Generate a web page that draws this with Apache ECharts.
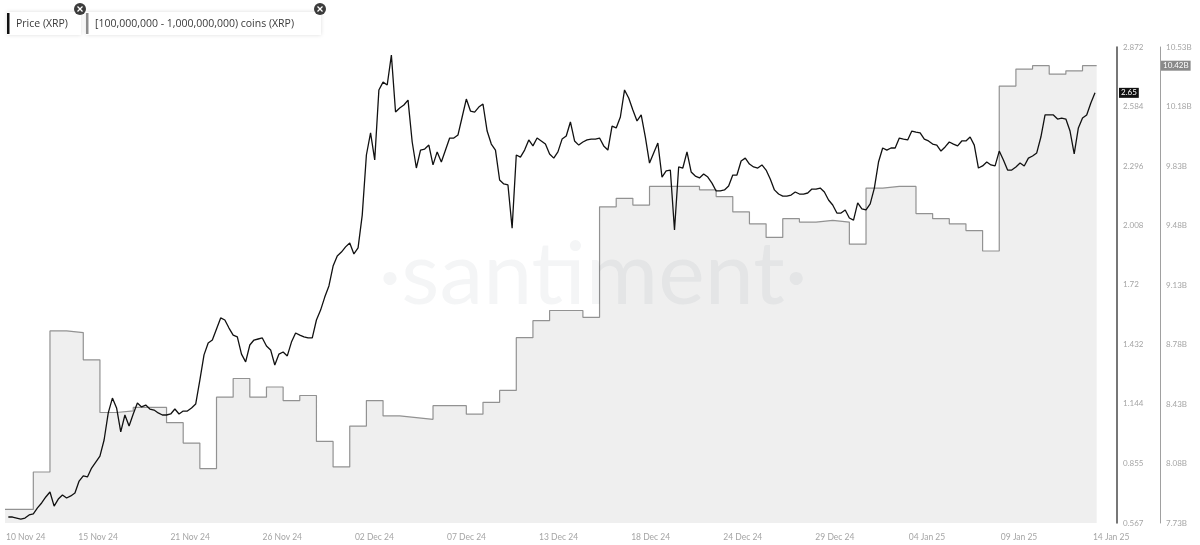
<!DOCTYPE html>
<html>
<head>
<meta charset="utf-8">
<title>XRP price vs 100M-1B holders</title>
<script src="https://cdn.jsdelivr.net/npm/echarts@6/dist/echarts.min.js"></script>
<style>
  html, body { margin: 0; padding: 0; background: #fff; }
  #chart { width: 1200px; height: 545px; }
</style>
</head>
<body>
<div id="chart"></div>
<script>
// x values are days counted from 10 Nov 24 00:00
const xTickLabels = ['10 Nov 24', '15 Nov 24', '21 Nov 24', '26 Nov 24', '02 Dec 24', '07 Dec 24',
  '13 Dec 24', '18 Dec 24', '24 Dec 24', '29 Dec 24', '04 Jan 25', '09 Jan 25', '14 Jan 25']
const priceTicks = [0.567, 0.855, 1.144, 1.432, 1.72, 2.008, 2.296, 2.584, 2.872]
const coinTicks = [7.73, 8.08, 8.43, 8.78, 9.13, 9.48, 9.83, 10.18, 10.53]
const seriesNames = ['Price (XRP)', '[100,000,000 - 1,000,000,000) coins (XRP)']

// coins held by the 100M-1B cohort, billions, one value per day from 10 Nov
const coinHoldings = [
  7.81, 7.81, 8.03, 8.86, 8.85, 8.69, 8.38, 8.39, 8.41, 8.41,
  8.32, 8.20, 8.05, 8.47, 8.58, 8.47, 8.53, 8.45, 8.48, 8.21,
  8.06, 8.30, 8.45, 8.36, 8.35, 8.34, 8.42, 8.42, 8.37, 8.44,
  8.51, 8.82, 8.92, 8.98, 8.98, 8.94, 9.59, 9.64, 9.60, 9.71,
  9.71, 9.71, 9.69, 9.65, 9.56, 9.49, 9.41, 9.52, 9.50, 9.51,
  9.50, 9.37, 9.70, 9.71, 9.71, 9.55, 9.52, 9.49, 9.45, 9.33,
  10.30, 10.40, 10.42, 10.37, 10.39, 10.42
]

// XRP price, USD, every 6 hours from 10 Nov 12:00
const priceXrp = [
  0.596, 0.596, 0.591, 0.586, 0.591, 0.606, 0.611, 0.640, 0.664, 0.693,
  0.717, 0.649, 0.683, 0.703, 0.688, 0.698, 0.712, 0.770, 0.795, 0.790,
  0.833, 0.862, 0.891, 0.969, 1.100, 1.172, 1.124, 1.008, 1.090, 1.037,
  1.095, 1.148, 1.129, 1.138, 1.119, 1.114, 1.100, 1.090, 1.090, 1.095,
  1.119, 1.095, 1.109, 1.109, 1.124, 1.143, 1.259, 1.381, 1.439, 1.453,
  1.506, 1.560, 1.550, 1.511, 1.477, 1.468, 1.385, 1.347, 1.429, 1.453,
  1.458, 1.463, 1.424, 1.405, 1.332, 1.385, 1.395, 1.376, 1.443, 1.487,
  1.477, 1.468, 1.463, 1.463, 1.550, 1.598, 1.661, 1.715, 1.811, 1.860,
  1.879, 1.904, 1.923, 1.870, 1.899, 2.058, 2.349, 2.456, 2.325, 2.664,
  2.702, 2.688, 2.833, 2.557, 2.577, 2.591, 2.615, 2.412, 2.286, 2.373,
  2.378, 2.397, 2.301, 2.364, 2.315, 2.373, 2.431, 2.431, 2.446, 2.533,
  2.620, 2.562, 2.557, 2.581, 2.596, 2.465, 2.402, 2.373, 2.228, 2.209,
  2.204, 1.995, 2.349, 2.339, 2.373, 2.422, 2.393, 2.431, 2.417, 2.402,
  2.354, 2.334, 2.364, 2.426, 2.441, 2.509, 2.417, 2.397, 2.412, 2.422,
  2.426, 2.426, 2.431, 2.393, 2.373, 2.489, 2.480, 2.533, 2.664, 2.625,
  2.567, 2.514, 2.543, 2.436, 2.310, 2.359, 2.407, 2.242, 2.272, 2.276,
  1.986, 2.291, 2.286, 2.364, 2.267, 2.247, 2.238, 2.257, 2.242, 2.213,
  2.175, 2.175, 2.180, 2.199, 2.252, 2.252, 2.320, 2.334, 2.305, 2.291,
  2.286, 2.301, 2.276, 2.233, 2.180, 2.160, 2.150, 2.150, 2.155, 2.170,
  2.160, 2.160, 2.165, 2.184, 2.184, 2.189, 2.170, 2.131, 2.107, 2.068,
  2.068, 2.083, 2.044, 2.034, 2.117, 2.088, 2.083, 2.112, 2.189, 2.315,
  2.383, 2.373, 2.383, 2.383, 2.431, 2.426, 2.422, 2.465, 2.460, 2.456,
  2.426, 2.417, 2.402, 2.397, 2.368, 2.388, 2.412, 2.402, 2.393, 2.417,
  2.417, 2.436, 2.397, 2.286, 2.296, 2.315, 2.301, 2.296, 2.368, 2.325,
  2.276, 2.276, 2.291, 2.310, 2.296, 2.334, 2.344, 2.359, 2.436, 2.543,
  2.543, 2.543, 2.523, 2.528, 2.523, 2.465, 2.354, 2.480, 2.528, 2.543,
  2.601, 2.650
]

const PRICE_START = 0.5
const PRICE_STEP = 0.25
const DATA_END = 65.85
const X_MIN = 0.36
const X_MAX = 67.07
const X_STEP = 5.53

const coinData = coinHoldings.map((v, i) => [i, v])
coinData.push([DATA_END, coinHoldings[coinHoldings.length - 1]])
const priceData = priceXrp.map((v, i) => [PRICE_START + i * PRICE_STEP, v])

const axisText = { color: '#a5a5a5', fontSize: 8, fontFamily: 'Lato' }

const legendBox = (x, w, barColor, name) => [
  { type: 'rect', shape: { x, y: 12, width: w, height: 23 }, style: { fill: '#fff', shadowBlur: 4, shadowColor: 'rgba(0,0,0,0.14)' } },
  { type: 'rect', shape: { x, y: 13, width: 2.5, height: 21 }, style: { fill: barColor } },
  { type: 'text', style: { text: name, x: x + 9, y: 24, verticalAlign: 'middle', font: '10.5px "Open Sans"', fill: '#3a3a3a' } },
  { type: 'circle', shape: { cx: x + w - 1, cy: 9, r: 6 }, style: { fill: '#3c3c3c' } },
  { type: 'line', shape: { x1: x + w - 3.5, y1: 6.5, x2: x + w + 1.5, y2: 11.5 }, style: { stroke: '#fff', lineWidth: 1.3 } },
  { type: 'line', shape: { x1: x + w + 1.5, y1: 6.5, x2: x + w - 3.5, y2: 11.5 }, style: { stroke: '#fff', lineWidth: 1.3 } }
]

const chart = echarts.init(document.getElementById('chart'))
chart.setOption({
  animation: false,
  backgroundColor: '#fff',
  grid: { left: 6, right: 83, top: 47, bottom: 22, containLabel: false, outerBoundsMode: 'none' },
  xAxis: {
    type: 'value',
    min: X_MIN,
    max: X_MAX,
    interval: X_STEP,
    axisLine: { show: false },
    axisTick: { show: false },
    splitLine: { show: false },
    axisLabel: {
      ...axisText,
      fontSize: 8.5,
      margin: 10,
      alignMinLabel: 'left',
      formatter: (v) => {
        const i = Math.round((v - X_MIN) / X_STEP)
        return Math.abs(X_MIN + i * X_STEP - v) < 0.01 ? (xTickLabels[i] || '') : ''
      }
    }
  },
  yAxis: [
    {
      type: 'value',
      position: 'right',
      min: priceTicks[0],
      max: priceTicks[priceTicks.length - 1],
      axisLine: { show: true, lineStyle: { color: '#4a4a4a', width: 1.5 } },
      axisTick: { show: false },
      splitLine: { show: false },
      axisLabel: { ...axisText, margin: 6, customValues: priceTicks, formatter: (v) => String(v) }
    },
    {
      type: 'value',
      position: 'right',
      offset: 43,
      min: coinTicks[0],
      max: coinTicks[coinTicks.length - 1],
      axisLine: { show: true, lineStyle: { color: '#a0a0a0', width: 1 } },
      axisTick: { show: false },
      splitLine: { show: false },
      axisLabel: { ...axisText, margin: 6, customValues: coinTicks, formatter: (v) => v.toFixed(2) + 'B' }
    }
  ],
  graphic: [
    ...legendBox(7, 74, '#111', seriesNames[0]),
    ...legendBox(86, 235, '#8c8c8c', seriesNames[1]),
    {
      type: 'text',
      z: 100,
      silent: true,
      style: {
        text: '·santiment·',
        x: 593,
        y: 276,
        align: 'center',
        verticalAlign: 'middle',
        font: '400 88px Lato',
        fill: 'rgba(40,50,70,0.05)'
      }
    }
  ],
  series: [
    {
      name: seriesNames[1],
      type: 'line',
      yAxisIndex: 1,
      step: 'end',
      showSymbol: false,
      data: coinData,
      lineStyle: { color: '#929292', width: 1.2 },
      areaStyle: { color: '#efefef', opacity: 1 },
      markLine: {
        silent: true,
        symbol: 'none',
        lineStyle: { color: 'transparent' },
        label: {
          position: 'end',
          distance: 44,
          formatter: (p) => p.value.toFixed(2) + 'B',
          color: '#fff',
          backgroundColor: '#8a8a8a',
          padding: [1, 2],
          fontSize: 8,
          fontFamily: 'Lato'
        },
        data: [{ yAxis: coinHoldings[coinHoldings.length - 1] }]
      }
    },
    {
      name: seriesNames[0],
      type: 'line',
      yAxisIndex: 0,
      showSymbol: false,
      data: priceData,
      lineStyle: { color: '#111', width: 1.3 },
      markLine: {
        silent: true,
        symbol: 'none',
        lineStyle: { color: 'transparent' },
        label: {
          position: 'end',
          distance: 2,
          formatter: (p) => p.value.toFixed(2),
          color: '#fff',
          backgroundColor: '#111',
          padding: [1, 2],
          fontSize: 8,
          fontFamily: 'Lato'
        },
        data: [{ yAxis: priceXrp[priceXrp.length - 1] }]
      }
    }
  ]
})
</script>
</body>
</html>
